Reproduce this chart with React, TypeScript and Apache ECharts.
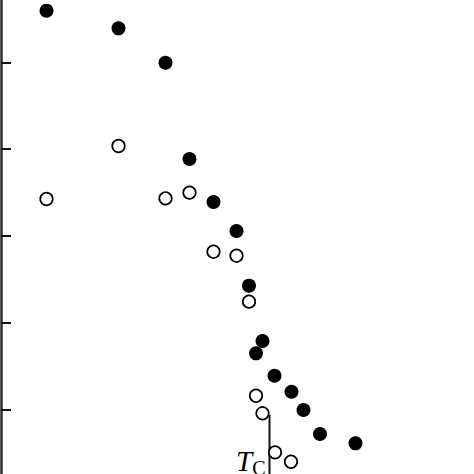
import React, { useEffect, useRef } from "react";
import * as echarts from "echarts";

// x: temperature-like units (arbitrary), y: value on left axis (ticks at 1..5)
const filledX = [9.1, 23.5, 32.9, 37.7, 42.5, 47.1, 49.6, 52.3, 51.0, 54.7, 58.1, 60.5, 63.8, 70.9];
const filledY = [5.594, 5.391, 4.995, 3.887, 3.391, 3.058, 2.428, 1.791, 1.649, 1.391, 1.207, 0.997, 0.72, 0.613];

const openX = [9.1, 23.5, 32.9, 37.7, 42.5, 47.1, 49.6, 51.0, 52.3, 54.8, 58.0];
const openY = [3.426, 4.036, 3.434, 3.499, 2.819, 2.773, 2.244, 1.161, 0.959, 0.509, 0.401];

const tcX = 53.7;
const tcLineY = [0.94, 0.26];

const yTicks = [1, 2, 3, 4, 5];
const yMin = 0.26;
const yMax = 5.717;

export default function App() {
  const ref = useRef<HTMLDivElement>(null);
  useEffect(() => {
    document.body.style.margin = "0";
    const chart = echarts.init(ref.current!, null, { renderer: "svg" });
    chart.setOption({
      animation: false,
      backgroundColor: "#ffffff",
      grid: { left: 1, right: 0, top: 0, bottom: 0, containLabel: false },
      xAxis: {
        type: "value",
        min: 0,
        max: 94.6,
        show: false,
      },
      yAxis: {
        type: "value",
        min: yMin,
        max: yMax,
        axisLine: { show: true, lineStyle: { color: "#2a2a2a", width: 2.5 } },
        axisTick: {
          show: true,
          inside: true,
          length: 10,
          customValues: yTicks,
          lineStyle: { color: "#111111", width: 2 },
        },
        axisLabel: { show: false },
        splitLine: { show: false },
      },
      series: [
        {
          type: "line",
          data: tcLineY.map((y) => [tcX, y]),
          symbol: "none",
          lineStyle: { color: "#111111", width: 2 },
          z: 1,
        },
        {
          type: "scatter",
          data: openX.map((x, i) => [x, openY[i]]),
          symbol: "circle",
          symbolSize: 12.5,
          itemStyle: { color: "#ffffff", borderColor: "#000000", borderWidth: 1.7, opacity: 1 },
          z: 3,
        },
        {
          type: "scatter",
          data: filledX.map((x, i) => [x, filledY[i]]),
          symbol: "circle",
          symbolSize: 14,
          itemStyle: { color: "#000000", opacity: 1 },
          z: 4,
        },
      ],
      graphic: [
        {
          type: "text",
          left: 236,
          top: 446,
          z: 10,
          style: {
            text: "{t|T}{c|C}",
            rich: {
              t: { fontFamily: "Liberation Serif", fontStyle: "italic", fontSize: 29, fill: "#000" },
              c: { fontFamily: "Liberation Serif", fontSize: 20, fill: "#000", padding: [14, 0, 0, 0] },
            },
          },
        },
      ],
    });
    return () => chart.dispose();
  }, []);
  return <div ref={ref} style={{ width: 474, height: 474 }} />;
}
